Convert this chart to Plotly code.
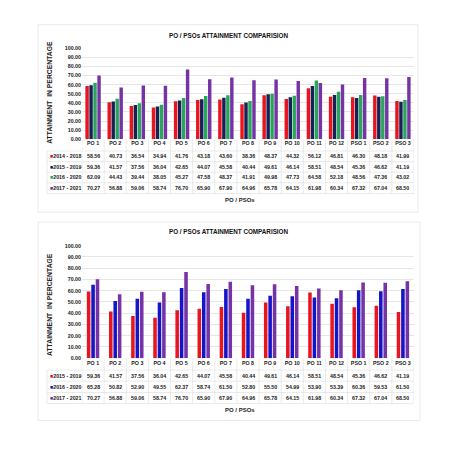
import plotly.graph_objects as go

# categories
cats = ["PO 1", "PO 2", "PO 3", "PO 4", "PO 5", "PO 6", "PO 7", "PO 8", "PO 9",
        "PO 10", "PO 11", "PO 12", "PSO 1", "PSO 2", "PSO 3"]

# chart 1 series
c1_2014_2018 = [58.56, 40.73, 36.54, 34.94, 41.76, 43.18, 43.60, 38.36, 48.37, 44.32, 56.12, 46.81, 46.30, 48.18, 41.99]
c1_2015_2019 = [59.36, 41.57, 37.56, 36.04, 42.65, 44.07, 45.58, 40.44, 49.61, 46.14, 58.51, 48.54, 45.36, 46.62, 41.19]
c1_2016_2020 = [62.09, 44.43, 39.44, 38.05, 45.27, 47.58, 48.37, 41.91, 49.98, 47.73, 64.58, 52.18, 48.56, 47.36, 43.02]
c1_2017_2021 = [70.27, 56.88, 59.06, 58.74, 76.70, 65.90, 67.90, 64.96, 65.78, 64.15, 61.98, 60.34, 67.32, 67.04, 68.50]

# chart 2 series
c2_2015_2019 = [59.36, 41.57, 37.56, 36.04, 42.65, 44.07, 45.58, 40.44, 49.61, 46.14, 58.51, 48.54, 45.36, 46.62, 41.19]
c2_2016_2020 = [65.28, 50.82, 52.90, 49.55, 62.37, 58.74, 61.50, 52.80, 55.50, 54.99, 53.90, 53.39, 60.36, 59.53, 61.50]
c2_2017_2021 = [70.27, 56.88, 59.06, 58.74, 76.70, 65.90, 67.90, 64.96, 65.78, 64.15, 61.98, 60.34, 67.32, 67.04, 68.50]

title = "PO / PSOs ATTAINMENT COMPARISION"
ytitle = "ATTAINMENT  IN PERCENTAGE"
xtitle = "PO / PSOs"

RED = "#e8141e"
NAVY = "#172057"
GREEN = "#2aa65c"
PURPLE = "#7533a6"
BLUE = "#1414c8"
FONT = "Liberation Sans Narrow, Arial Narrow, Liberation Sans, Arial"
GRID = "#dcdcdc"
TS = 5.3  # table / tick font size

W = H = 453


def px(x):
    return x / W


def py(y):
    return 1 - y / H


chart1 = [("2014 - 2018", c1_2014_2018, RED), ("2015 - 2019", c1_2015_2019, NAVY),
          ("2016 - 2020", c1_2016_2020, GREEN), ("2017 - 2021", c1_2017_2021, PURPLE)]
chart2 = [("2015 - 2019", c2_2015_2019, RED), ("2016 - 2020", c2_2016_2020, BLUE),
          ("2017 - 2021", c2_2017_2021, PURPLE)]

fig = go.Figure()
annotations = []
shapes = []


def note(x, y, text, size, xref="paper", xanchor="center", angle=0, family=FONT, color="#222"):
    annotations.append(dict(x=x, y=y, xref=xref, yref="paper", xanchor=xanchor, yanchor="middle",
                            text=text, showarrow=False, textangle=angle,
                            font=dict(family=family, size=size, color=color)))


setups = [
    dict(series=chart1, ax="", top=46, bot=138, rows=[155.5, 166, 176.8, 187.5], tbot=193,
         xt=200, tt=33, ymid=91, box=(38, 22, 418, 212), slot=0.18, bw=0.155),
    dict(series=chart2, ax="2", top=246, bot=360, rows=[377.5, 389, 400.5], tbot=406,
         xt=412, tt=232, ymid=306, box=(38, 222, 420, 423), slot=0.2, bw=0.16),
]

X0, X1 = 82, 414
for s in setups:
    n = len(s["series"])
    ax = s["ax"]
    for i, (name, vals, col) in enumerate(s["series"]):
        off = -n * s["slot"] / 2 + i * s["slot"] + (s["slot"] - s["bw"]) / 2
        fig.add_trace(go.Bar(x=cats, y=vals, name=name, marker_color=col, marker_line_width=0,
                             width=s["bw"], offset=off, showlegend=False,
                             xaxis="x" + ax, yaxis="y" + ax))
        # table row: legend key + values
        ry = py(s["rows"][i])
        note(px(47.5), ry, "<span style='color:%s'>■</span><b>%s</b>" % (col, name), TS, xanchor="left")
        for c, v in zip(cats, vals):
            note(c, ry, "<b>%.2f</b>" % v, TS, xref="x" + ax)

    # table grid lines
    ylines = [s["rows"][0] - 5.5] + [(s["rows"][k] + s["rows"][k - 1]) / 2 for k in range(1, n)] + [s["tbot"]]
    for yl in ylines:
        shapes.append(dict(type="line", xref="paper", yref="paper", x0=px(47), x1=px(X1),
                           y0=py(yl), y1=py(yl), line=dict(color=GRID, width=0.6)))
    for k in range(len(cats) + 1):
        shapes.append(dict(type="line", xref="x" + ax, yref="paper", x0=k - 0.5, x1=k - 0.5,
                           y0=py(s["bot"]), y1=py(s["tbot"]), line=dict(color=GRID, width=0.6)))
    shapes.append(dict(type="line", xref="paper", yref="paper", x0=px(47), x1=px(47),
                       y0=py(ylines[0]), y1=py(s["tbot"]), line=dict(color=GRID, width=0.6)))

    # chart frame
    bx0, by0, bx1, by1 = s["box"]
    shapes.append(dict(type="rect", xref="paper", yref="paper", x0=px(bx0), x1=px(bx1),
                       y0=py(by1), y1=py(by0), line=dict(color="#e4e4e4", width=0.8)))

    note(px(229), py(s["tt"]), "<b>%s</b>" % title, 6.3, color="#111")
    note(px(240), py(s["xt"]), "<b>%s</b>" % xtitle, 6)
    note(px(50), py(s["ymid"]), "<b>%s</b>" % ytitle, 6.8, angle=-90, family="Liberation Sans, Arial")

    axis_x = dict(domain=[px(X0), px(X1)], type="category", showline=False, showgrid=False,
                  tickfont=dict(family=FONT, size=TS, color="#222"), ticks="",
                  range=[-0.5, len(cats) - 0.5], fixedrange=True)
    axis_y = dict(domain=[py(s["bot"]), py(s["top"])], range=[0, 100], dtick=10,
                  tickformat=".2f", showgrid=True, gridcolor="#e6e6e6", gridwidth=0.6,
                  zeroline=False, showline=False, ticks="",
                  tickfont=dict(family=FONT, size=TS, color="#222"))
    if ax:
        axis_x["anchor"] = "y2"
        axis_y["anchor"] = "x2"
    fig.layout["xaxis" + ax] = axis_x
    fig.layout["yaxis" + ax] = axis_y

fig.update_xaxes(tickprefix="<b>", ticksuffix="</b>")
fig.update_yaxes(tickprefix="<b>", ticksuffix="</b>")
fig.update_layout(width=W, height=H, margin=dict(l=0, r=0, t=0, b=0),
                  paper_bgcolor="white", plot_bgcolor="white", barmode="overlay",
                  annotations=annotations, shapes=shapes, showlegend=False)

# page body has a default 8px margin; remove it so the figure sits at the window origin
fig.write_html("out.html", config={"displayModeBar": False},
               post_script="document.body.style.margin='0';")
